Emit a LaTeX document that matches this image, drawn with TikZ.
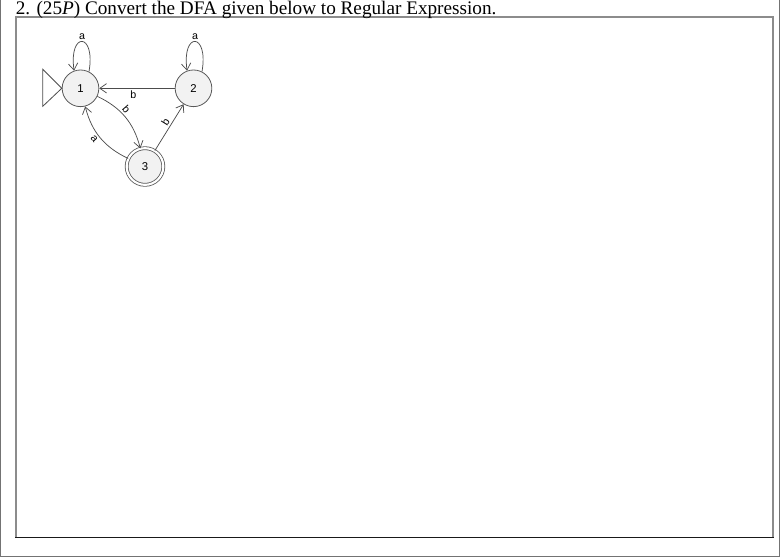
\documentclass[tikz,border=0pt]{standalone}
\usepackage{fontspec}
\setmainfont{Liberation Serif}
\newfontfamily\statefont{Liberation Sans}
\usetikzlibrary{arrows.meta}

\tikzset{
  state/.style={circle, draw=black!65, fill=black!5, line width=0.6pt,
    minimum size=27.5pt, inner sep=0pt, font=\statefont\fontsize{8.5}{9}\selectfont},
  accept/.style={state, double=white, double distance=1.6pt},
  trans/.style={draw=black!70, line width=0.55pt, -{Straight Barb[length=5pt,width=7pt]}},
  tlabel/.style={font=\statefont\fontsize{8}{9}\selectfont, inner sep=1.5pt}
}

\begin{document}
\begin{tikzpicture}[x=0.75pt,y=0.75pt,yscale=-1,xscale=1]
\useasboundingbox (0,0) rectangle (781,558);

%Outer frame
\draw [draw=black!55, line width=0.9pt] (0.6,-5) -- (0.6,556.8) -- (779.6,556.8) -- (779.6,-5) ;
%Answer box
\draw [draw=black!45, line width=1.2pt] (15.8,538) -- (15.8,17.2) -- (773.2,17.2) -- (773.2,538) ;
\draw [draw=black!90, line width=1pt] (15.2,537.6) -- (773.8,537.6) ;

% Text Node
\node [anchor=base west, inner sep=0pt, font=\fontsize{14.4}{16}\selectfont] (title) at (15.5,14.5)
  {2. (25\textit{P}) Convert the DFA given below to Regular Expression.};

%States
\node [state] (n1) at (80.5,88.3) {1};
\node [state] (n2) at (193.5,88.3) {2};
\node [accept] (n3) at (145,166.5) {3};

%Initial marker
\draw [draw=black!70, line width=0.6pt] (n1.west) -- ++(-19,-19) -- ++(0,37) -- cycle ;

%Transitions
\draw [trans] (n1.63) to [out=-80, in=-98, min distance=30pt] node [tlabel, above] {a} (n1.110) ;
\draw [trans] (n2.63) to [out=-80, in=-98, min distance=30pt] node [tlabel, above] {a} (n2.110) ;
\draw [trans] (n2) -- node [tlabel, below, pos=0.55] {b} (n1) ;
\draw [trans] (n1) to [bend right=25] node [tlabel, rotate=-49, anchor=south, pos=0.42] {b} (n3) ;
\draw [trans] (n3) to [bend right=25] node [tlabel, rotate=-49, anchor=north, pos=0.55] {a} (n1) ;
\draw [trans] (n3) -- node [tlabel, rotate=58, anchor=south, pos=0.55] {b} (n2) ;

\end{tikzpicture}
\end{document}
